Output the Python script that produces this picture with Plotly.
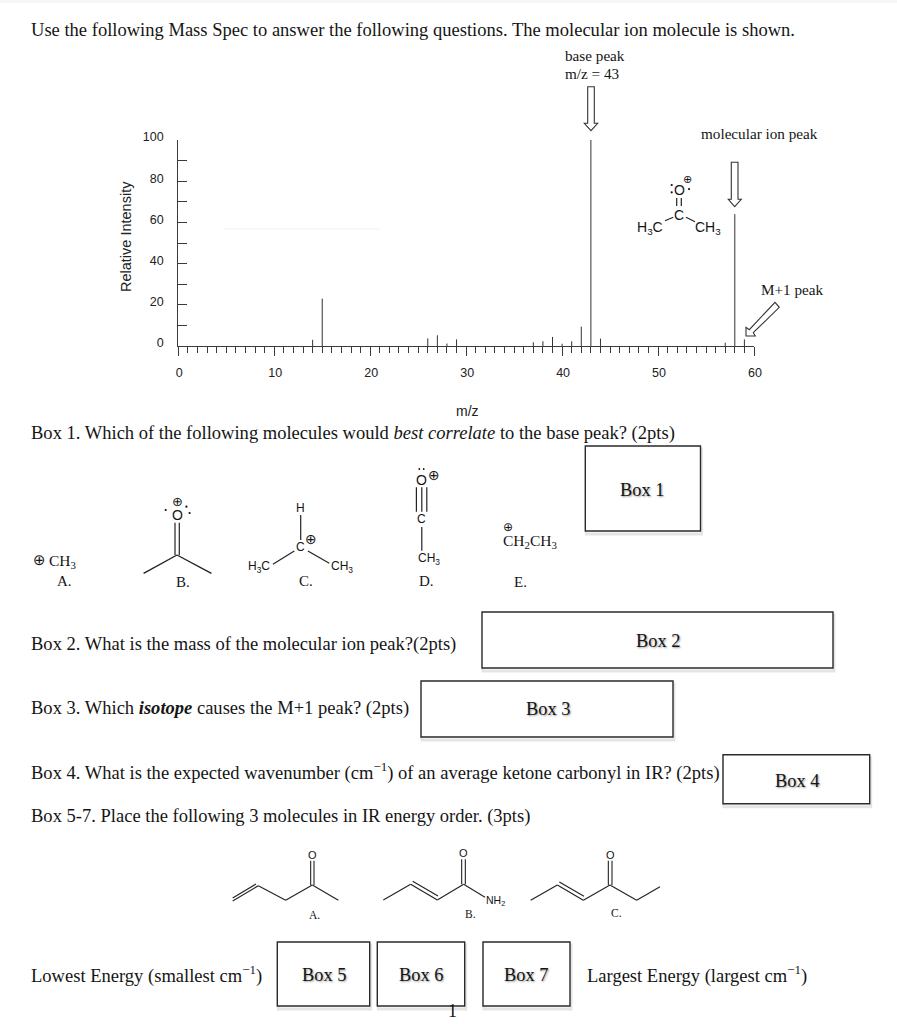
import plotly.graph_objects as go

W, H = 897, 1024

# ---- Spectrum data ----
mz_values = [14, 15, 26, 27, 28, 29, 37, 38, 39, 40, 41, 42, 43, 44, 57, 58, 59]
intensities = [3, 23, 3.7, 5.2, 1.2, 3.2, 1.8, 2.3, 4.4, 1.1, 2.3, 9.4, 100, 3.6, 1.6, 64, 3.2]
x_tick_values = [0, 10, 20, 30, 40, 50, 60]
y_tick_values = [0, 20, 40, 60, 80, 100]

INK = "#151515"
AXIS = "#3a3a3a"
SERIF = "Liberation Serif"
SANS = "Liberation Sans"
BODY = 18.55


def px(x):
    return x / W


def py(y):
    return 1 - y / H


annotations = []
shapes = []


def text(s, x, y, size=BODY, font=SERIF, anchor="left", color=INK, shadow=None, angle=0):
    f = dict(family=font, size=size, color=color)
    if shadow:
        f["shadow"] = shadow
    annotations.append(dict(text=s, x=px(x), y=py(y), xref="paper", yref="paper",
                            xanchor=anchor, yanchor="middle", showarrow=False,
                            borderpad=0, font=f, textangle=angle))


def line(x0, y0, x1, y1, width=1.2, color="#222"):
    shapes.append(dict(type="line", xref="paper", yref="paper", x0=px(x0), x1=px(x1),
                       y0=py(y0), y1=py(y1), line=dict(color=color, width=width)))


def poly(points, width=1.1, color="#333"):
    d = "M " + " L ".join(f"{px(a):.5f},{py(b):.5f}" for a, b in points) + " Z"
    shapes.append(dict(type="path", xref="paper", yref="paper", path=d,
                       line=dict(color=color, width=width), fillcolor="white"))


def box(x0, y0, x1, y1, label, lx, ly):
    shapes.append(dict(type="rect", xref="paper", yref="paper", x0=px(x0 + 1), x1=px(x1 + 1),
                       y0=py(y0 + 3), y1=py(y1 + 3),
                       line=dict(color="rgba(0,0,0,0.10)", width=3), fillcolor="rgba(0,0,0,0)"))
    shapes.append(dict(type="rect", xref="paper", yref="paper", x0=px(x0), x1=px(x1),
                       y0=py(y0), y1=py(y1), line=dict(color="#2a2a2a", width=1.4),
                       fillcolor="white"))
    text(label, lx, ly, size=18.4, anchor="center", shadow="1px 1px 2px rgba(0,0,0,0.4)")


def plus(x, y, size=15):
    text("⊕", x, y, size=size, font="DejaVu Sans", anchor="center")


def dot(x, y, r=1.1):
    shapes.append(dict(type="circle", xref="paper", yref="paper", x0=px(x - r), x1=px(x + r),
                       y0=py(y - r), y1=py(y + r), fillcolor="#111", line=dict(width=0)))


# page band and pale stray line
shapes.append(dict(type="rect", xref="paper", yref="paper", x0=0, x1=1, y0=py(3), y1=1,
                   fillcolor="#f6f6f6", line=dict(width=0), layer="below"))
line(224, 229, 380, 229, width=1, color="#f2f2f2")

# ---- Axis titles ----
text("Relative Intensity", 126, 236, size=14.5, font=SANS, anchor="center", color="#222", angle=-90)
text("m/z", 467, 411, size=14, font=SANS, anchor="center", color="#222")

# ---- Question text ----
text("Use the following Mass Spec to answer the following questions. The molecular ion molecule is shown.", 29.5, 29)
text("Box 1. Which of the following molecules would <i>best correlate</i> to the base peak? (2pts)", 29.5, 433)
text("Box 2. What is the mass of the molecular ion peak?(2pts)", 29.5, 644)
text("Box 3. Which <b><i>isotope</i></b> causes the M+1 peak? (2pts)", 29.5, 708)
text("Box 4. What is the expected wavenumber (cm<sup>−1</sup>) of an average ketone carbonyl in IR? (2pts)", 29.5, 771.5)
text("Box 5-7. Place the following 3 molecules in IR energy order. (3pts)", 29.5, 816)
text("Lowest Energy (smallest cm<sup>−1</sup>)", 29.5, 974.5)
text("Largest Energy (largest cm<sup>−1</sup>)", 585.5, 974.5)

# ---- Answer boxes ----
box(585.3, 446, 700.5, 531, "Box 1", 642, 490)
box(482, 612, 833, 668, "Box 2", 658, 641)
box(421, 681, 673, 737, "Box 3", 548, 709)
box(723, 754.7, 869.7, 803.7, "Box 4", 797, 781)
box(277.3, 942, 369.7, 1006, "Box 5", 323.5, 975)
box(377.3, 942, 464.7, 1006, "Box 6", 421, 975)
box(483, 942, 570, 1006, "Box 7", 526, 975)
text("1", 452.7, 1011, size=18, anchor="center")

# ---- Spectrum callouts ----
text("base peak", 564, 55, size=15.2)
text("m/z = 43", 564, 73, size=15.2)
text("molecular ion peak", 699.5, 133, size=15.2)
text("M+1 peak", 759.5, 289, size=15.2)
poly([(587.7, 86.7), (594.3, 86.7), (594.3, 123.3), (597.7, 123.3), (591, 130.7), (584.3, 123.3), (587.7, 123.3)])
poly([(731.3, 162.3), (738, 162.3), (738, 199.3), (741.3, 199.3), (734.7, 206.7), (728.3, 199.3), (731.3, 199.3)])
poly([(746, 336), (746, 327.3), (749.3, 329.7), (775, 302.3), (779.3, 307.3), (753.3, 332.7), (755.3, 336)])

# acetone radical cation in the chart
text("O", 679, 190, size=14, font=SANS, anchor="center")
plus(687.7, 179.3, 11)
dot(671.7, 185)
dot(671.7, 192.3)
dot(689, 189)
line(676.7, 198, 676.7, 206)
line(681.3, 198, 681.3, 206)
text("C", 679, 215, size=14, font=SANS, anchor="center")
line(665, 220.7, 673.3, 217.3)
line(686, 217.3, 695, 221.7)
text("H<sub>3</sub>C", 650, 228, size=14, font=SANS, anchor="center")
text("CH<sub>3</sub>", 708.3, 228, size=14, font=SANS, anchor="center")

# ---- Molecules row for Box 1 ----
plus(39.3, 560, 15)
text("CH<sub>3</sub>", 47.5, 561, size=15.5)
text("A.", 64, 581, size=15, anchor="center")

text("O", 177, 515, size=14, font=SANS, anchor="center")
plus(177, 501, 13)
dot(165.7, 510)
dot(186.4, 506.7)
dot(189.6, 513)
line(175, 522.7, 175, 555)
line(179.3, 522.7, 179.3, 555)
line(177, 555, 143.6, 573.3, width=1.4)
line(177, 555, 211.4, 573.3, width=1.4)
text("B.", 183, 581.7, size=15, anchor="center")

text("H", 300.7, 507.7, size=12, font=SANS, anchor="center")
line(300.7, 515, 300.7, 540)
text("C", 300.7, 547, size=12, font=SANS, anchor="center")
plus(311.4, 539.3, 14)
line(294.3, 551, 272.9, 564.3)
line(307.9, 551, 329.3, 563.3)
text("H<sub>3</sub>C", 259.3, 567, size=12, font=SANS, anchor="center")
text("CH<sub>3</sub>", 341.8, 567.3, size=12, font=SANS, anchor="center")
text("C.", 306, 581, size=15, anchor="center")

text("O", 421.8, 480, size=14, font=SANS, anchor="center")
dot(419.3, 469, 0.9)
dot(423.7, 469, 0.9)
plus(434, 475, 14)
line(416.4, 487.3, 416.4, 511.7)
line(421.8, 487.3, 421.8, 511.7)
line(426.8, 487.3, 426.8, 511.7)
text("C", 421.8, 519.3, size=12, font=SANS, anchor="center")
line(421.8, 527, 421.8, 550.7)
text("CH<sub>3</sub>", 429, 559, size=12, font=SANS, anchor="center")
text("D.", 426.4, 581, size=15, anchor="center")

plus(507.9, 527, 12)
text("CH<sub>2</sub>CH<sub>3</sub>", 502, 541, size=15.5)
text("E.", 520, 582, size=15, anchor="center")


# ---- Bottom molecules (drawn from a crop-space skeleton) ----
def bx(v):
    return 220 + v / 3


def by(v):
    return 840 + v / 3


def skeleton(segments):
    for a, b, c, d in segments:
        line(bx(a), by(b), bx(c), by(d), width=1.1)


skeleton([(38, 183, 115, 137), (38, 174, 108, 132), (115, 137, 197, 181), (197, 181, 277, 135),
          (277, 135, 355, 181), (272, 135, 272, 62), (282, 135, 282, 62)])
text("O", bx(276), by(44), size=11, font=SANS, anchor="center")
text("A.", bx(282), by(224), size=11.5, anchor="center")

skeleton([(490, 180, 572, 133), (572, 133, 652, 180), (578, 124, 654, 168), (652, 180, 731, 133),
          (731, 133, 795, 172), (725, 133, 725, 58), (736, 133, 736, 58)])
text("O", bx(730), by(40), size=11, font=SANS, anchor="center")
text("NH<sub>2</sub>", bx(827), by(183), size=10.5, font=SANS, anchor="center")
text("B.", bx(750), by(222), size=11.5, anchor="center")

skeleton([(932, 181, 1012, 135), (1012, 135, 1090, 181), (1018, 126, 1092, 169), (1090, 181, 1170, 135),
          (1170, 135, 1250, 181), (1250, 181, 1320, 140), (1165, 135, 1165, 62), (1176, 135, 1176, 62)])
text("O", bx(1170), by(44), size=11, font=SANS, anchor="center")
text("C.", bx(1190), by(220), size=11.5, anchor="center")

# one stick per peak, drawn through the data axes
stick_x, stick_y = [], []
for m, v in zip(mz_values, intensities):
    stick_x += [m, m, None]
    stick_y += [0, v, None]

fig = go.Figure(go.Scatter(x=stick_x, y=stick_y, mode="lines", hoverinfo="skip",
                           line=dict(color="#333", width=1)))

fig.update_layout(
    template="none",
    width=W, height=H, autosize=False, margin=dict(l=0, r=0, t=0, b=0),
    paper_bgcolor="white", plot_bgcolor="rgba(0,0,0,0)", showlegend=False,
    annotations=annotations, shapes=shapes,
    font=dict(family=SANS, size=12.5, color="#222"),
    xaxis=dict(domain=[px(178.3), px(754)], range=[0, 60], automargin=False, tickmode="array",
               tickvals=x_tick_values, ticks="outside", ticklen=9, tickwidth=1.2,
               tickcolor=AXIS, showline=True, linecolor=AXIS, linewidth=1.2,
               showgrid=False, zeroline=False, tickfont=dict(size=12.5, family=SANS),
               ticklabelstandoff=6, ticklabelshift=1,
               minor=dict(dtick=1, tick0=0, ticks="outside", ticklen=5.5, tickwidth=1,
                          tickcolor=AXIS, showgrid=False)),
    yaxis=dict(domain=[py(346), py(140)], range=[0, 100], automargin=False, tickmode="array",
               tickvals=y_tick_values, ticks="inside", ticklen=9, tickwidth=1.2,
               tickcolor=AXIS, showline=True, linecolor=AXIS, linewidth=1.2,
               showgrid=False, zeroline=False, tickfont=dict(size=12.5, family=SANS),
               ticklabelstandoff=11, ticklabelshift=-3,
               minor=dict(dtick=10, tick0=0, ticks="inside", ticklen=9, tickwidth=1,
                          tickcolor=AXIS, showgrid=False)),
)

fig.write_html("out.html", config=dict(displayModeBar=False),
               post_script="document.body.style.margin='0';document.documentElement.style.overflow='hidden';")
